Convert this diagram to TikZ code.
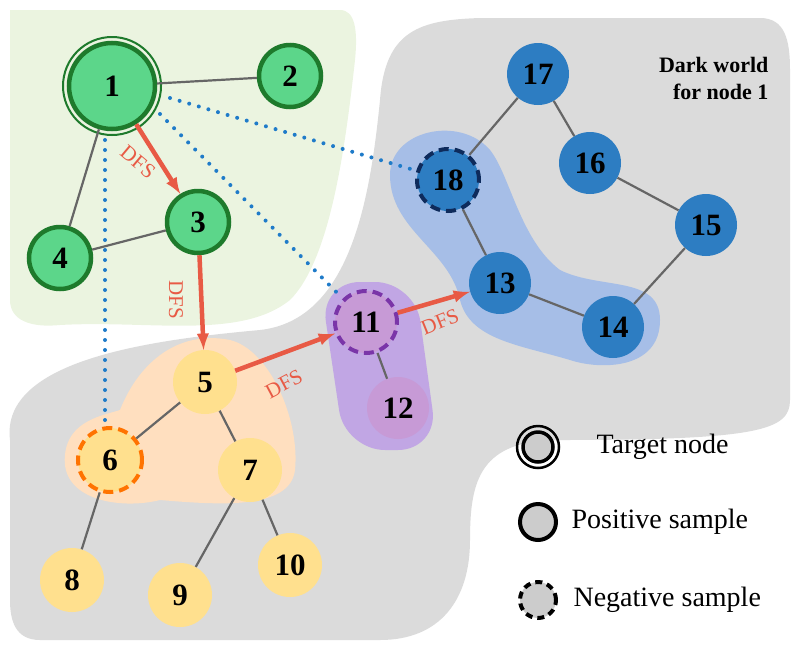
\documentclass[tikz,border=0pt]{standalone}
\usepackage{fontspec}
\setmainfont{Liberation Serif}
\definecolor{gnf}{HTML}{5CD68A}
\definecolor{gnd}{HTML}{1E7A2C}
\definecolor{yf}{HTML}{FFE08E}
\definecolor{pf}{HTML}{C79AD6}
\definecolor{pd}{HTML}{7A35A8}
\definecolor{bf}{HTML}{2D7DC2}
\definecolor{bd}{HTML}{0E2B5C}
\definecolor{rg}{HTML}{E85A45}
\definecolor{dotc}{HTML}{1F7BC9}
\begin{document}
\begin{tikzpicture}[x=1pt,y=-1pt,
 num/.style={font=\bfseries\fontsize{31}{31}\selectfont,inner sep=0},
 gn/.style={num,circle,minimum size=62pt,fill=gnf,draw=gnd,line width=4.5pt},
 yn/.style={num,circle,minimum size=64pt,fill=yf},
 pn/.style={num,circle,minimum size=62pt,fill=pf},
 bn/.style={num,circle,minimum size=62pt,fill=bf},
 ge/.style={draw=gray!80!black,line width=2.2pt},
 dfs/.style={draw=rg,line width=4.5pt,-latex},
 dl/.style={text=rg,font=\fontsize{21}{21}\selectfont,inner sep=1pt},
 dot/.style={draw=dotc,line width=4pt,dash pattern=on 0pt off 10pt,line cap=round}]
\useasboundingbox (0,0) rectangle (794,651);
% regions
\fill[gray!28] (10,440) .. controls (0,360) and (150,340) .. (260,330) .. controls (350,320) and (370,200) .. (380,100) .. controls (385,30) and (420,20) .. (480,18) -- (760,18) .. controls (785,18) and (790,40) .. (790,70) -- (790,400) .. controls (790,430) and (760,440) .. (560,440) .. controls (480,440) and (470,480) .. (470,540) .. controls (470,600) and (440,640) .. (380,640) -- (40,640) .. controls (15,640) and (10,620) .. (10,600) -- cycle;
\fill[green!30!olive!12!white] (10,10) -- (340,10) .. controls (355,10) and (358,30) .. (355,60) .. controls (345,150) and (330,260) .. (290,300) .. controls (240,340) and (150,320) .. (60,325) .. controls (30,328) and (10,320) .. (10,300) -- cycle;
\fill[orange!25!white] (120,410) .. controls (140,360) and (180,330) .. (230,340) .. controls (270,350) and (300,420) .. (295,470) .. controls (290,510) and (220,505) .. (160,500) .. controls (120,510) and (60,500) .. (65,455) .. controls (68,420) and (105,415) .. (120,410) -- cycle;
\fill[blue!40!violet!35!white,rounded corners=40pt] (320,282) -- (415,282) -- (438,450) -- (345,450) -- cycle;
\fill[cyan!50!blue!35!white] (390,175) .. controls (390,130) and (460,115) .. (490,150) .. controls (510,175) and (520,240) .. (560,270) .. controls (600,290) and (660,275) .. (660,320) .. controls (660,370) and (600,370) .. (570,360) .. controls (520,345) and (470,340) .. (460,300) .. controls (450,250) and (390,230) .. (390,175) -- cycle;
% nodes
\node[gn,minimum size=86pt] (n1) at (112,86) {1};
\draw[gnd,line width=2pt] (n1) circle (49pt);
\node[gn] (n2) at (290,76) {2};
\node[gn] (n3) at (198,222) {3};
\node[gn] (n4) at (60,258) {4};
\node[yn] (n5) at (205,382) {5};
\node[yn,draw=orange!90!red,line width=4pt,dash pattern=on 10pt off 6pt] (n6) at (110,460) {6};
\node[yn] (n7) at (250,470) {7};
\node[yn] (n8) at (72,580) {8};
\node[yn] (n9) at (180,595) {9};
\node[yn] (n10) at (290,565) {10};
\node[pn,draw=pd,line width=4pt,dash pattern=on 10pt off 6pt] (n11) at (366,322) {11};
\node[pn] (n12) at (398,408) {12};
\node[bn] (n13) at (500,283) {13};
\node[bn] (n14) at (613,327) {14};
\node[bn] (n15) at (706,225) {15};
\node[bn] (n16) at (590,163) {16};
\node[bn] (n17) at (538,74) {17};
\node[bn,draw=bd,line width=4pt,dash pattern=on 10pt off 6pt] (n18) at (448,180) {18};
% edges
\foreach \a/\b in {n1/n2,n1/n4,n4/n3,n5/n6,n5/n7,n7/n9,n7/n10,n6/n8,n11/n12,n17/n18,n17/n16,n16/n15,n15/n14,n14/n13,n13/n18}
  \draw[ge] (\a) -- (\b);
% dotted
\coordinate (d6) at (105,140);
\coordinate (d11) at (160,114);
\coordinate (d18) at (170,98);
\draw[dot] (d6) -- (n6.north -| d6);
\draw[dot] (d11) -- (n11);
\draw[dot] (d18) -- (n18);
% dfs
\draw[dfs] (n1) -- (n3);
\node[dl,rotate=-40] (l13) at (138,162) {DFS};
\draw[dfs] (n3) -- (n5);
\node[dl,rotate=-90] (l35) at (176,300) {DFS};
\draw[dfs] (n5) -- (n11);
\node[dl,rotate=28] (l511) at (284,384) {DFS};
\draw[dfs] (n11) -- (n13);
\node[dl,rotate=22] (l1113) at (440,322) {DFS};
\node[font=\bfseries\fontsize{22}{27}\selectfont,align=right,anchor=east] (dw) at (772,78) {Dark world\\for node 1};
% legend
\node[circle,minimum size=30pt,fill=gray!40,draw=black,line width=3.5pt] (l1) at (538,447) {};
\draw[line width=2.5pt] (l1) circle (21pt);
\node[circle,minimum size=36pt,fill=gray!40,draw=black,line width=4pt] (l2) at (538,522) {};
\node[circle,minimum size=36pt,fill=gray!40,draw=black,line width=4pt,dash pattern=on 7pt off 5pt] (l3) at (538,600) {};
\node[anchor=west,font=\fontsize{28}{28}\selectfont] at (593,447) {Target node};
\node[anchor=west,font=\fontsize{28}{28}\selectfont] at (568,522) {Positive sample};
\node[anchor=west,font=\fontsize{28}{28}\selectfont] at (570,600) {Negative sample};
\end{tikzpicture}
\end{document}
